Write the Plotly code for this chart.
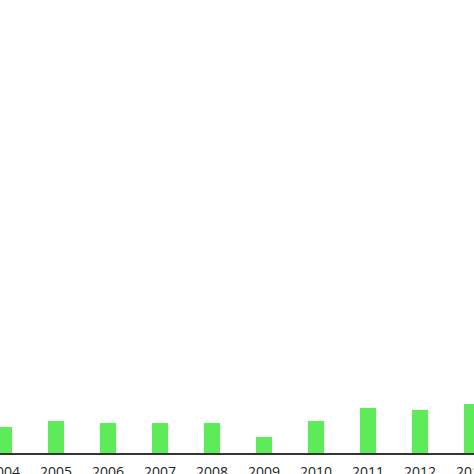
import plotly.graph_objects as go

# values (bar heights, arbitrary units)
years = [2004, 2005, 2006, 2007, 2008, 2009, 2010, 2011, 2012, 2013]
values = [26, 32, 30, 30, 30, 16, 32, 45, 43, 49]

bar = go.Bar(
    x=years,
    y=values,
    marker=dict(color='#5deb5a', line=dict(width=0)),
    width=0.31,
)

fig = go.Figure(data=[bar])
fig.update_layout(
    width=474,
    height=474,
    margin=dict(l=0, r=0, t=0, b=21),
    paper_bgcolor='white',
    plot_bgcolor='white',
    showlegend=False,
    font=dict(family='Open Sans', size=14, color='#222222'),
)
fig.update_xaxes(
    range=[2004 - 4 / 52, 2004 + 470 / 52],
    tickmode='array',
    tickvals=years,
    ticktext=[str(y) for y in years],
    ticklabeloverflow='allow',
    ticklabelstandoff=5,
    automargin=False,
    showgrid=False,
    zeroline=False,
    showline=True,
    linecolor='#333333',
    linewidth=1.5,
    ticks='',
)
fig.update_yaxes(
    range=[0, 453],
    visible=False,
    automargin=False,
)

# page body has a default margin; remove it so the figure fills the window
fig.write_html(
    "out.html",
    config={'displayModeBar': False},
    post_script="document.body.style.margin='0px';",
)
